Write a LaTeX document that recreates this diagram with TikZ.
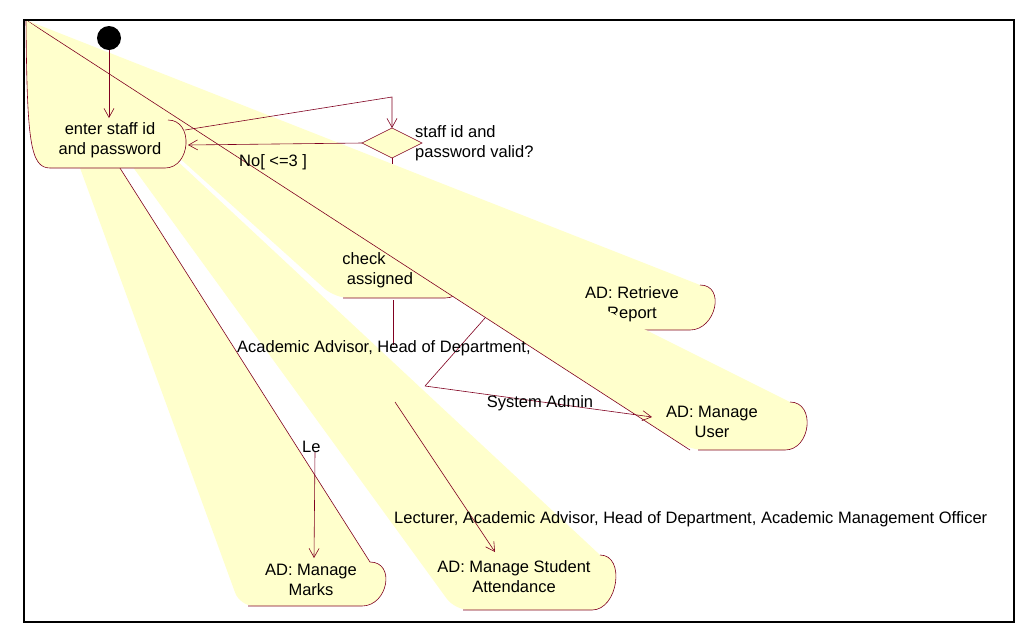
\documentclass[tikz,border=0pt]{standalone}
\usepackage{fontspec}
\setmainfont{Liberation Sans}
\usetikzlibrary{arrows.meta}
\definecolor{actfill}{RGB}{255,255,204}
\definecolor{brn}{RGB}{128,0,32}
\tikzset{
  act/.style={fill=actfill},
  edge/.style={draw=brn,line width=0.6pt},
  flow/.style={draw=brn,line width=0.6pt,-{Straight Barb[length=9pt,width=10pt,line width=0.6pt]}},
  txt/.style={font=\fontsize{16.5}{20}\selectfont,align=center,inner sep=0pt},
  ltxt/.style={font=\fontsize{16.5}{20}\selectfont,align=left,inner sep=0pt,anchor=west},
}
% #1 L, #2 R, #3 T
\newcommand\actshape[3]{%
  \fill[act,rounded corners=14] (26,20) -- #1 [sharp corners] -- #2 .. controls +(26,0) and +(26,0) .. #3 -- cycle;
  \draw[edge] ($#1+(8,0)$) -- #2 .. controls +(26,0) and +(26,0) .. #3;}
\usetikzlibrary{calc}
\begin{document}
\begin{tikzpicture}[x=1pt,y=-1pt]
\useasboundingbox (0,0) rectangle (1019,625);
\fill[white] (0,0) rectangle (1019,625);
% check role assigned
\actshape{(335,298)}{(445,298)}{(455,250)}
\node[txt] (check) at (380,270) {check\phantom{ role}\\assigned};
% retrieve report
\actshape{(590,330)}{(690,330)}{(700,285)}
\node[txt] (retr) at (632,304) {AD: Retrieve\\Report};
% manage user
\actshape{(690,450)}{(785,450)}{(790,402)}
\draw[edge] (26,20) -- (690,450);
\node[txt] (user) at (712,422) {AD: Manage\\User};
% manage marks
\actshape{(240,606)}{(362,606)}{(370,562)}
\draw[edge] (26,20) -- (370,562);
\node[txt] (marks) at (311,580) {AD: Manage\\Marks};
% attendance
\actshape{(455,610)}{(592,610)}{(600,555)}
\node[txt] (att) at (514,577) {AD: Manage Student\\Attendance};
% enter staff id
\fill[act] (26,20) .. controls (27,140) and (30,168) .. (50,168) -- (165,168)
  .. controls +(26,0) and +(26,0) .. (168,120) -- cycle;
\draw[edge] (50,168) -- (165,168) .. controls +(26,0) and +(26,0) .. (168,120);
\draw[edge] (26,20) .. controls (27,140) and (30,168) .. (50,168);
\node[txt] (enter) at (110,140) {enter staff id\\and password};
% start
\fill[black] (109,38) circle (12);
\coordinate (start) at (109,50);
\coordinate (entertop) at (109,118);
\draw[flow] (start) -- (entertop);
% diamond
\coordinate (dtop) at (392,128);
\coordinate (dleft) at (362,143);
\coordinate (dright) at (422,143);
\coordinate (dbot) at (392,158);
\fill[actfill,draw=brn,line width=0.6pt] (dtop) -- (dright) -- (dbot) -- (dleft) -- cycle;
\node[ltxt] (dlab) at (415,143) {staff id and\\password valid?};
\coordinate (eout) at (185,130);
\coordinate (dcorner) at (392,97);
\draw[flow] (eout) -- (dcorner) -- (dtop);
\coordinate (ein) at (188,145);
\draw[flow] (dleft) -- (ein);
\node[ltxt] (no) at (239,162) {No[ <=3 ]};
\draw[edge] (dbot) -- (392,164);
% branches
\coordinate (cbot) at (393,300);
\draw[edge] (cbot) -- (393,345);
\coordinate (sa) at (425,386);
\coordinate (rr) at (485,318);
\draw[edge] (sa) -- (rr);
\coordinate (uin) at (652,417);
\draw[flow] (sa) -- (uin);
\node[txt] (salab) at (540,403) {System Admin};
\coordinate (ast) at (395,402);
\coordinate (ain) at (495,552);
\draw[flow] (ast) -- (ain);
\coordinate (mst) at (315,452);
\coordinate (min) at (314,558);
\draw[flow] (mst) -- (min);
\node[ltxt] (le) at (302,447) {Le};
\node[ltxt] (aahd) at (237,348) {Academic Advisor, Head of Department,};
\node[ltxt] (lab2) at (394,519) {Lecturer, Academic Advisor, Head of Department, Academic Management Officer};
% frame
\draw[black,line width=1.5pt] (24,20) rectangle (1014,622);
\end{tikzpicture}
\end{document}
